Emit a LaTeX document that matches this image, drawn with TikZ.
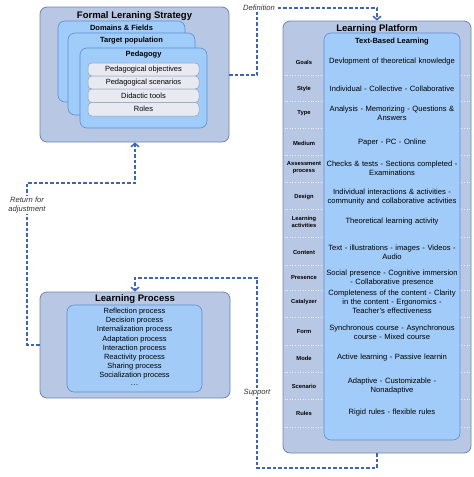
\documentclass[tikz,border=0pt]{standalone}
\usepackage{fontspec}
\setmainfont{Liberation Sans}
\usetikzlibrary{fit,arrows.meta}
\definecolor{outerfill}{RGB}{184,200,228}
\definecolor{outerdraw}{RGB}{112,132,172}
\definecolor{bluefill}{RGB}{160,204,250}
\definecolor{bluedraw}{RGB}{92,142,210}
\definecolor{itemfill}{RGB}{232,234,242}
\definecolor{itemdraw}{RGB}{150,160,182}
\definecolor{linkcol}{RGB}{62,102,176}
\tikzset{
  outerbox/.style={draw=outerdraw,fill=outerfill,rounded corners=7pt,line width=0.8pt,inner sep=0pt},
  bluebox/.style={draw=bluedraw,fill=bluefill,rounded corners=7pt,line width=0.6pt,inner sep=0pt},
  itembox/.style={draw=itemdraw,fill=itemfill,rounded corners=4pt,line width=0.5pt,inner sep=0pt},
  bigtitle/.style={font=\fontsize{9.5}{11}\selectfont\bfseries,inner sep=0pt},
  subtitle/.style={font=\fontsize{7.5}{8}\selectfont\bfseries,inner sep=0pt},
  itemtext/.style={font=\fontsize{7.5}{8}\selectfont,inner sep=0pt},
  rowlabel/.style={font=\fontsize{5.8}{6.8}\selectfont\bfseries,align=center,inner sep=0pt},
  rowvalue/.style={font=\fontsize{7.6}{8.8}\selectfont,align=center,text width=134pt,inner sep=0pt},
  link/.style={draw=linkcol,line width=1.8pt,dash pattern=on 3.5pt off 2pt},
  linktip/.style={-{Straight Barb[length=3.5pt,width=8pt,line width=1.5pt]}},
  linklabel/.style={font=\fontsize{7.6}{8.6}\selectfont\itshape,fill=white,inner sep=1pt,align=center,text=black!80},
  sep/.style={draw=white!70!outerfill,line width=0.6pt,dotted}
}
\begin{document}
\begin{tikzpicture}[x=1pt,y=-1pt]
\useasboundingbox (0,0) rectangle (474,477);
% ---------- Formal Learning Strategy ----------
\node[outerbox,fit={(40,7)(229,142)}] (fls) {};
\node[bigtitle] (flsT) at (134.5,16) {Formal Leraning Strategy};
\node[bluebox,fit={(58,21)(185,102)}] (dom) {};
\node[subtitle] (domT) at (121.5,27.5) {Domains \& Fields};
\node[bluebox,fit={(68,33)(195,115)}] (tgt) {};
\node[subtitle] (tgtT) at (131.5,40.5) {Target population};
\node[bluebox,fit={(80,48)(207,128)}] (ped) {};
\node[subtitle] (pedT) at (143.5,55) {Pedagogy};
\node[itembox,fit={(88,63)(199,76)}] (p1) {};
\node[itemtext] at (p1) {Pedagogical objectives};
\node[itembox,fit={(88,76)(199,89)}] (p2) {};
\node[itemtext] at (p2) {Pedagogical scenarios};
\node[itembox,fit={(88,89)(199,102.5)}] (p3) {};
\node[itemtext] at (p3) {Didactic tools};
\node[itembox,fit={(88,102.5)(199,116)}] (p4) {};
\node[itemtext] at (p4) {Roles};
% ---------- Learning Platform ----------
\node[outerbox,fit={(283,21)(471,453)}] (lp) {};
\foreach \yy in {75.5,101,128,155.5,182.5,209.5,237,265,290,317,345,372,399.5,427}
  \draw[sep] (284.5,\yy) -- (469.5,\yy);
\node[bluebox,fill opacity=0.93,fit={(324,33)(460,440)}] (tbl) {};
\node[bigtitle] (lpT) at (377,29.5) {Learning Platform};
\node[subtitle] (tblT) at (392,41.5) {Text-Based Learning};
\foreach \yy/\lab/\val in {
  62/Goals/Devlopment of theoretical knowledge,
  89/Style/Individual - Collective - Collaborative,
  113/Type/{Analysis - Memorizing - Questions \&\\Answers},
  143/Medium/Paper - PC - Online,
  168/{Assessment\\process}/{Checks \& tests - Sections completed -\\Examinations},
  197/Design/{Individual interactions \& activities -\\community and collaborative activities},
  222/{Learning\\activities}/Theoretical learning activity,
  252/Content/{Text - illustrations - images - Videos -\\Audio},
  278/Presence/{Social presence - Cognitive immersion\\- Collaborative presence},
  302/Catalyzer/{Completeness of the content - Clarity\\in the content - Ergonomics -\\Teacher's effectiveness},
  332/Form/{Synchronous course - Asynchronous\\course - Mixed course},
  358/Mode/Active learning - Passive learnin,
  386/Scenario/{Adaptive - Customizable -\\Nonadaptive},
  413/Rules/Rigid rules - flexible rules}
{
  \node[rowlabel] at (304,\yy) {\lab};
  \node[rowvalue] at (392,\yy) {\val};
}
% ---------- Learning Process ----------
\node[outerbox,fit={(40,292)(230,398)}] (lproc) {};
\node[bigtitle] (lprocT) at (135,299) {Learning Process};
\node[bluebox,fill opacity=0.9,fit={(67,305)(202,392)}] (lpin) {};
\foreach \yy/\txt in {311.5/Reflection process,320.7/Decision process,330/Internalization process,339.2/Adaptation process,348.4/Interaction process,357.6/Reactivity process,366.8/Sharing process,376/Socialization process}
  \node[itemtext] at (134.5,\yy) {\txt};
\node[itemtext] (etc) at (134.5,385) {.\kern0.5pt.\kern0.5pt.};
% ---------- Connectors ----------
\coordinate (d1) at (fls.east |- 0,75);
\coordinate (rs) at (lproc.west |- 0,345);
\coordinate (ss) at (377,453);
\draw[link,linktip] (d1) -- (257,75) -- (257,8) -- (377,8) -- (lp.north);
\node[linklabel] (defL) at (259,8) {Definition};
\draw[link,linktip] (rs) -- (27,345) -- (27,183) -- (135,183) -- (fls.south -| 135,0);
\node[linklabel] (retL) at (27,205) {Return for\\adjustment};
\draw[link,linktip] (lp.south -| ss) -- (377,468) -- (257,468) -- (257,278) -- (135,278) -- (lproc.north -| 135,0);
\node[linklabel] (supL) at (257,393) {Support};
\end{tikzpicture}
\end{document}
